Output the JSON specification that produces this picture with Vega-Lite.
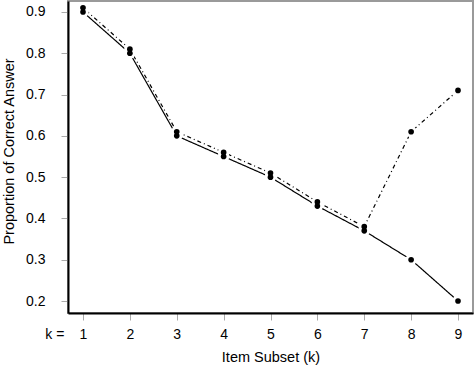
{
  "$schema": "https://vega.github.io/schema/vega-lite/v6.json",
  "width": 405,
  "height": 312,
  "autosize": {"type": "none"},
  "padding": {"left": 68, "top": 1, "right": 1, "bottom": 53},
  "background": "white",
  "config": {
    "font": "Liberation Sans",
    "view": {"stroke": "#9a9a9a", "strokeWidth": 2},
    "axis": {
      "grid": false,
      "domainColor": "black",
      "domainWidth": 2,
      "tickColor": "#aaaaaa",
      "tickSize": 7,
      "tickWidth": 1,
      "labelFont": "Liberation Sans",
      "labelFontSize": 14,
      "labelColor": "black",
      "titleFont": "Liberation Sans",
      "titleFontSize": 14.5,
      "titleFontWeight": "normal",
      "titleColor": "black"
    }
  },
  "data": {
    "values": [
      {"k": 1, "p": 0.90, "s": "A"},
      {"k": 2, "p": 0.80, "s": "A"},
      {"k": 3, "p": 0.60, "s": "A"},
      {"k": 4, "p": 0.55, "s": "A"},
      {"k": 5, "p": 0.50, "s": "A"},
      {"k": 6, "p": 0.43, "s": "A"},
      {"k": 7, "p": 0.37, "s": "A"},
      {"k": 8, "p": 0.30, "s": "A"},
      {"k": 9, "p": 0.20, "s": "A"},
      {"k": 1, "p": 0.91, "s": "B"},
      {"k": 2, "p": 0.81, "s": "B"},
      {"k": 3, "p": 0.61, "s": "B"},
      {"k": 4, "p": 0.56, "s": "B"},
      {"k": 5, "p": 0.51, "s": "B"},
      {"k": 6, "p": 0.44, "s": "B"},
      {"k": 7, "p": 0.38, "s": "B"},
      {"k": 8, "p": 0.61, "s": "B"},
      {"k": 9, "p": 0.71, "s": "B"}
    ]
  },
  "encoding": {
    "x": {
      "field": "k", "type": "quantitative",
      "scale": {"domain": [0.68, 9.32], "nice": false, "zero": false},
      "axis": {"values": [1,2,3,4,5,6,7,8,9], "format": "d", "labelPadding": 7, "title": "Item Subset (k)", "titlePadding": 9}
    },
    "y": {
      "field": "p", "type": "quantitative",
      "scale": {"domain": [0.171, 0.9266], "nice": false, "zero": false},
      "axis": {"values": [0.2,0.3,0.4,0.5,0.6,0.7,0.8,0.9], "format": ".1f", "labelPadding": 16, "title": "Proportion of Correct Answer", "titlePadding": 9, "titleY": 150}
    }
  },
  "layer": [
    {
      "mark": {"type": "line", "color": "black", "strokeWidth": 1.2},
      "encoding": {
        "detail": {"field": "s"},
        "strokeDash": {"field": "s", "type": "nominal", "scale": {"domain": ["A","B"], "range": [[1,0],[1,3,4,3]]}, "legend": null}
      }
    },
    {
      "mark": {"type": "circle", "color": "white", "opacity": 1, "size": 130}
    },
    {
      "mark": {"type": "circle", "color": "black", "opacity": 1, "size": 32}
    },
    {
      "data": {"values": [{"k": 0.40, "p": 0.118, "t": "k ="}]},
      "mark": {"type": "text", "clip": false, "fontSize": 14, "font": "Liberation Sans", "color": "black", "align": "center", "baseline": "middle"},
      "encoding": {"text": {"field": "t"}}
    }
  ]
}
